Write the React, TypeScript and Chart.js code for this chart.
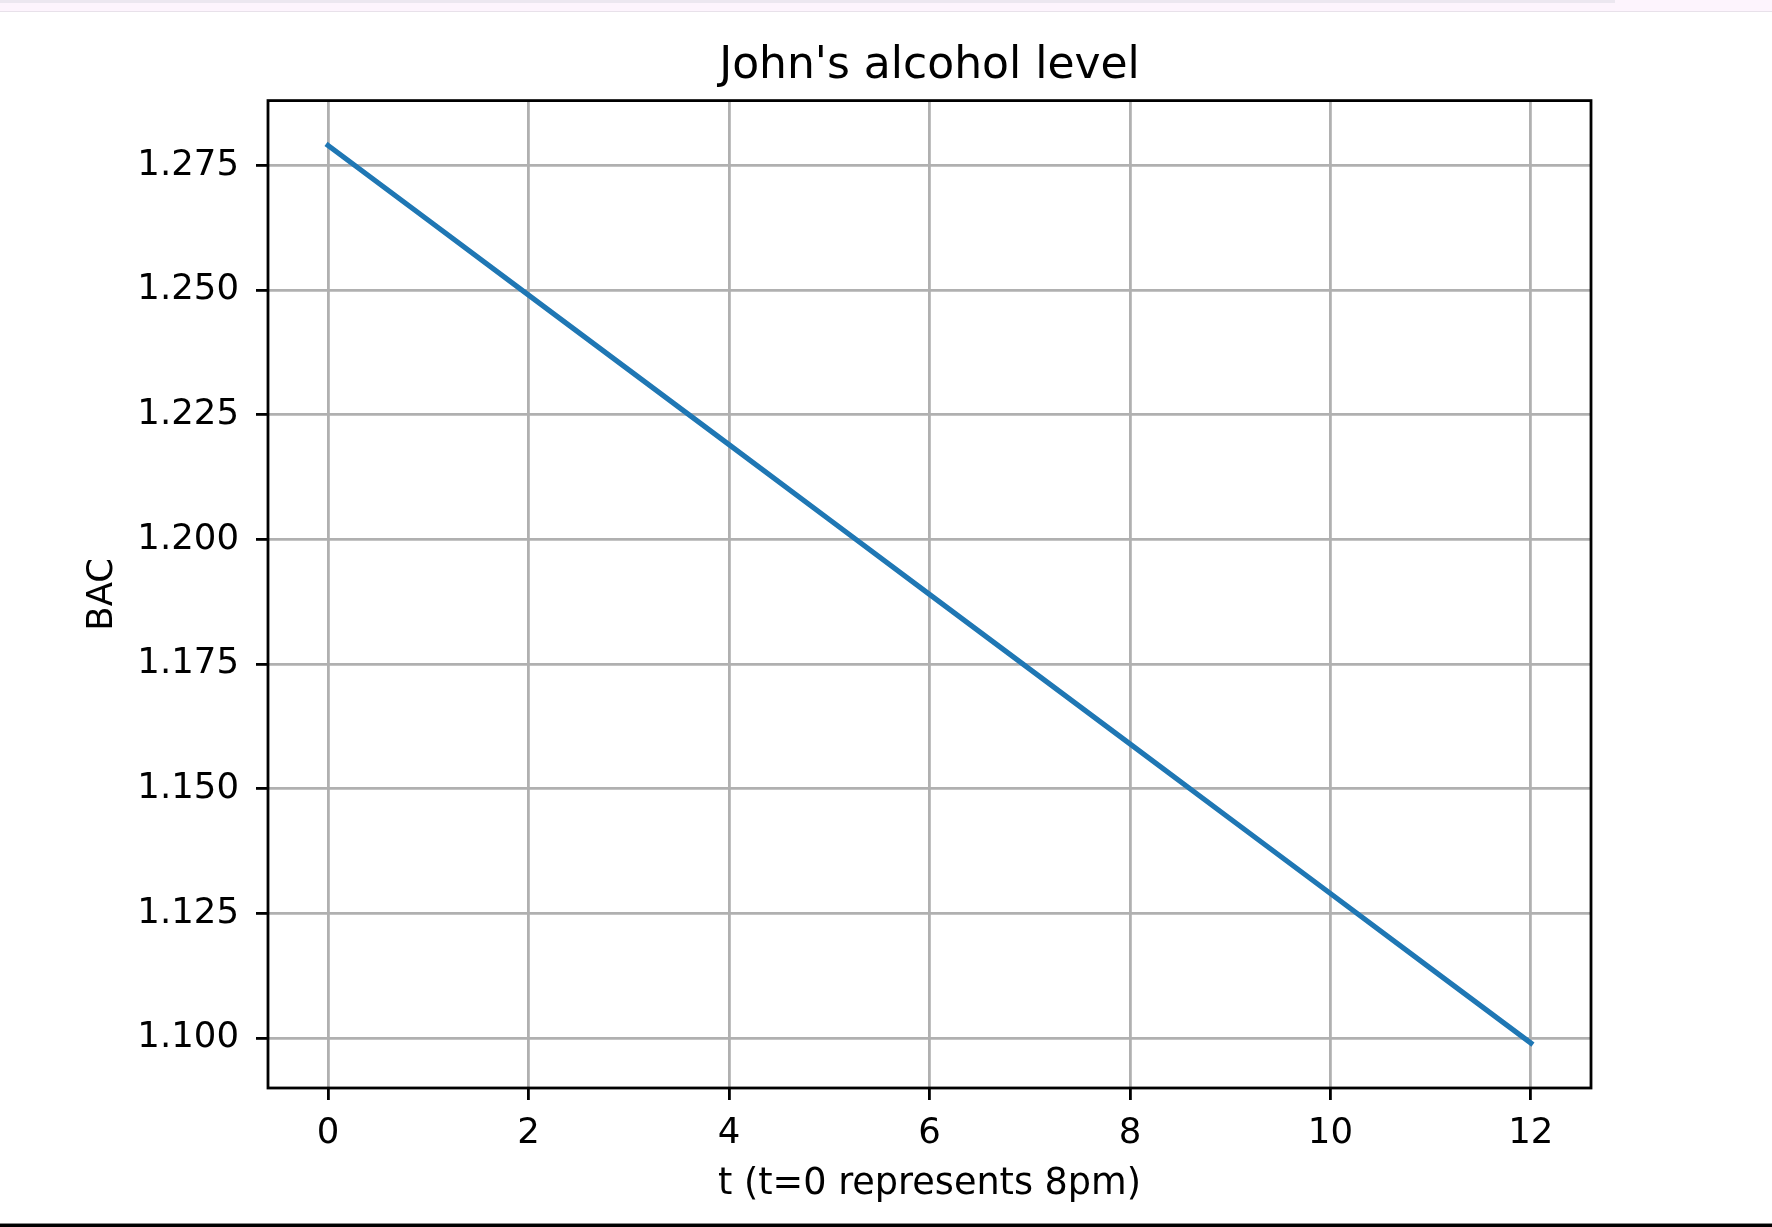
import React, { useEffect, useRef } from "react";
import { Chart, registerables } from "chart.js";

Chart.register(...registerables);

const chartTitle = "John's alcohol level";
const xAxisLabel = "t (t=0 represents 8pm)";
const yAxisLabel = "BAC";
const hours = [0, 1, 2, 3, 4, 5, 6, 7, 8, 9, 10, 11, 12];
const bacValues = [1.279, 1.264, 1.249, 1.234, 1.219, 1.204, 1.189, 1.174, 1.159, 1.144, 1.129, 1.114, 1.099];
const xTicks = [0, 2, 4, 6, 8, 10, 12];
const yTicks = [1.1, 1.125, 1.15, 1.175, 1.2, 1.225, 1.25, 1.275];

const W = 1772;
const H = 1227;
const FONT = "'DejaVu Sans', sans-serif";

export default function App() {
  const ref = useRef<HTMLCanvasElement | null>(null);

  useEffect(() => {
    const canvas = ref.current;
    if (!canvas) return;

    const xMinD = Math.min(...hours), xMaxD = Math.max(...hours);
    const yMinD = Math.min(...bacValues), yMaxD = Math.max(...bacValues);
    const xm = (xMaxD - xMinD) * 0.05;
    const ym = (yMaxD - yMinD) * 0.05;

    const spines = {
      id: "spines",
      afterDatasetsDraw(chart: any) {
        const { ctx, chartArea } = chart;
        ctx.save();
        ctx.strokeStyle = "#000";
        ctx.lineWidth = 2.8;
        ctx.lineJoin = "miter";
        ctx.strokeRect(chartArea.left, chartArea.top, chartArea.right - chartArea.left, chartArea.bottom - chartArea.top);
        ctx.restore();
      },
    };

    const chart = new Chart(canvas, {
      type: "line",
      data: {
        datasets: [
          {
            data: hours.map((t, i) => ({ x: t, y: bacValues[i] })),
            borderColor: "#1f77b4",
            backgroundColor: "#1f77b4",
            borderWidth: 5.2,
            borderCapStyle: "square",
            pointRadius: 0,
            tension: 0,
            fill: false,
          },
        ],
      },
      options: {
        responsive: false,
        animation: false,
        devicePixelRatio: 1,
        events: [],
        layout: { padding: { top: 0, right: 181, bottom: 0, left: 0 } },
        plugins: {
          legend: { display: false },
          tooltip: { enabled: false },
          title: {
            display: true,
            fullSize: false,
            text: chartTitle,
            color: "#000",
            font: { family: FONT, size: 44, weight: "normal", lineHeight: 1.2 },
            padding: { top: 40.5, bottom: 7.3 },
          },
        },
        scales: {
          x: {
            type: "linear",
            min: xMinD - xm,
            max: xMaxD + xm,
            afterBuildTicks: (scale: any) => {
              scale.ticks = xTicks.map((v) => ({ value: v }));
            },
            afterFit: (scale: any) => {
              scale.height = 139;
            },
            border: { display: false },
            grid: {
              color: "#b0b0b0",
              lineWidth: 2.8,
              drawTicks: true,
              tickLength: 12,
              tickColor: "#000",
              tickWidth: 2.8,
            },
            ticks: {
              color: "#000",
              font: { family: FONT, size: 35.5, lineHeight: 1.2 },
              padding: 12,
              maxRotation: 0,
              autoSkip: false,
              callback: (v: any) => String(v),
            },
            title: {
              display: true,
              text: xAxisLabel,
              color: "#000",
              font: { family: FONT, size: 36.6, lineHeight: 1.2 },
              padding: { top: 0, bottom: 20.8 },
            },
          },
          y: {
            type: "linear",
            min: yMinD - ym,
            max: yMaxD + ym,
            afterBuildTicks: (scale: any) => {
              scale.ticks = yTicks.map((v) => ({ value: v }));
            },
            afterFit: (scale: any) => {
              scale.width = 268;
            },
            border: { display: false },
            grid: {
              color: "#b0b0b0",
              lineWidth: 2.8,
              drawTicks: true,
              tickLength: 12,
              tickColor: "#000",
              tickWidth: 2.8,
            },
            ticks: {
              color: "#000",
              font: { family: FONT, size: 35.5, lineHeight: 1.2 },
              padding: 17,
              autoSkip: false,
              callback: (v: any) => Number(v).toFixed(3),
            },
            title: {
              display: true,
              text: yAxisLabel,
              color: "#000",
              font: { family: FONT, size: 35.5, lineHeight: 1.2 },
              padding: { top: 81.2, bottom: 0 },
            },
          },
        },
      },
      plugins: [spines],
    } as any);

    return () => chart.destroy();
  }, []);

  return (
    <div style={{ position: "fixed", left: 0, top: 0, width: W, height: H, background: "#fff", overflow: "hidden" }}>
      <canvas ref={ref} width={W} height={H} style={{ position: "absolute", left: 0, top: 0, width: W, height: H }} />
      <div style={{ position: "absolute", left: 0, top: 0, width: W, height: 12, background: "#fdf4fd", borderBottom: "1px solid #e8e1ea", boxSizing: "border-box" }} />
      <div style={{ position: "absolute", left: 0, top: 0, width: 1615, height: 3, background: "#ece7f0" }} />
      <div style={{ position: "absolute", left: 0, bottom: 3, width: W, height: 1, background: "#888" }} />
      <div style={{ position: "absolute", left: 0, bottom: 0, width: W, height: 3, background: "#000" }} />
    </div>
  );
}
